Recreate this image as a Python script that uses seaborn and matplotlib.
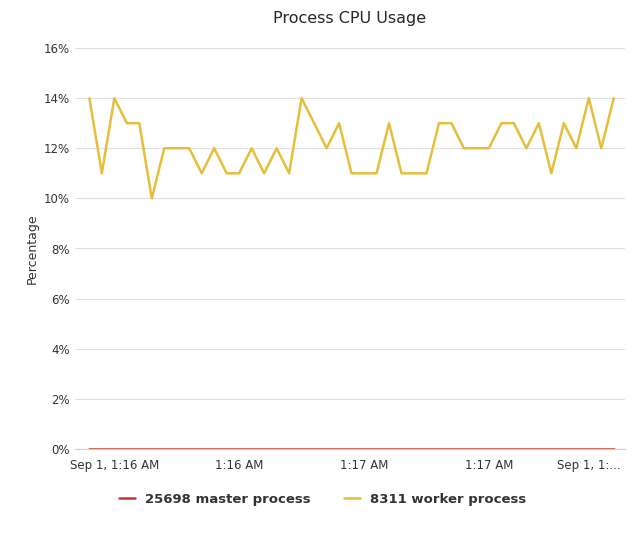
import matplotlib
matplotlib.use("Agg")
import matplotlib.pyplot as plt
import seaborn as sns
import pandas as pd
import numpy as np

worker = [14,11,14,13,13,10,12,12,12,11,12,11,11,12,11,12,11,14,13,12,13,11,
          11,11,11,13,11,11,11,13,13,12,12,12,13,13,12,13,11,13,12,14,12,14]
worker = worker[:22] + worker[23:]
master = [0]*len(worker)
tick_idx = [2, 12, 22, 32, 40]
tick_labels = ["Sep 1, 1:16 AM", "1:16 AM", "1:17 AM", "1:17 AM", "Sep 1, 1:..."]

idx = np.arange(len(worker))
df = pd.DataFrame({"i": np.concatenate([idx, idx]),
                   "v": master + worker,
                   "s": ["25698 master process"]*len(idx) + ["8311 worker process"]*len(idx)})

sns.set_style("white")
fig = plt.figure(figsize=(6.4, 5.37), dpi=100)
ax = fig.add_axes([75/640, 88/537, 550/640, 401/537])
sns.lineplot(data=df, x="i", y="v", hue="s", palette=["#c0392b", "#e5bf3c"], linewidth=1.8, ax=ax)
ax.set_xlim(-1.15, 42.9)
ax.set_ylim(0, 16)
ax.set_yticks(range(0, 17, 2))
ax.set_yticklabels([f"{v}%" for v in range(0, 17, 2)], fontsize=8.5, color="#333333")
ax.set_xticks(tick_idx)
ax.set_xticklabels(tick_labels, fontsize=8.5, color="#333333")
ax.tick_params(axis="x", length=4, color="#cccccc")
ax.tick_params(axis="y", length=0)
ax.grid(axis="y", color="#e0e0e0", linewidth=0.8)
for s in ["top", "right", "left"]:
    ax.spines[s].set_visible(False)
ax.spines["bottom"].set_color("#cccccc")
ax.set_xlabel("")
ax.set_ylabel("Percentage", fontsize=9, color="#333333")
ax.set_title("Process CPU Usage", fontsize=11.5, pad=18)
leg = ax.legend(title=None, loc="upper center", bbox_to_anchor=(0.45, -0.08), ncol=2,
                frameon=False, fontsize=9.5, handlelength=1.2, columnspacing=2.5)
for t in leg.get_texts():
    t.set_fontweight("semibold")
    t.set_color("#333333")
fig.savefig("out.png", dpi=100)
